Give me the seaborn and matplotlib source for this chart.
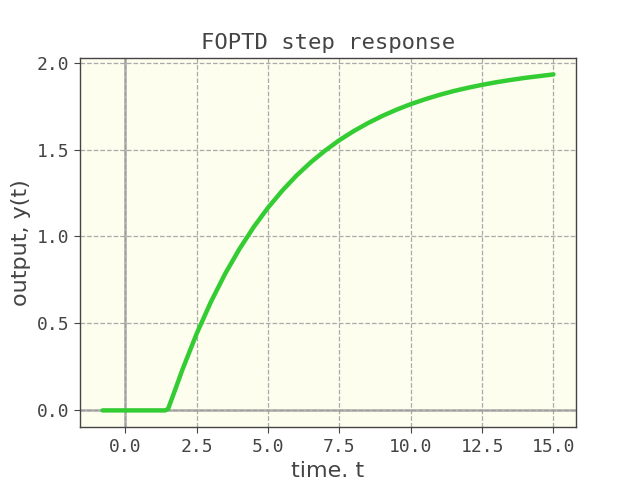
import matplotlib
matplotlib.use("Agg")
import matplotlib.pyplot as plt
import seaborn as sns
import pandas as pd

# values
time_t = [-0.8, 0.0, 0.5, 1.0, 1.4, 1.5, 1.75, 2.0, 2.5, 3.0, 3.5, 4.0, 4.5, 5.0,
          5.5, 6.0, 6.5, 7.0, 7.5, 8.0, 8.5, 9.0, 9.5, 10.0, 10.5, 11.0,
          11.5, 12.0, 12.5, 13.0, 13.5, 14.0, 14.5, 15.0]
output_y = [0.0, 0.0, 0.0, 0.0, 0.0, 0.01, 0.121, 0.235, 0.442, 0.625, 0.787, 0.929, 1.055, 1.166,
            1.264, 1.351, 1.427, 1.494, 1.554, 1.606, 1.652, 1.693, 1.729, 1.761, 1.789, 1.814,
            1.836, 1.855, 1.872, 1.887, 1.900, 1.912, 1.922, 1.932]
xticks = [0.0, 2.5, 5.0, 7.5, 10.0, 12.5, 15.0]
yticks = [0.0, 0.5, 1.0, 1.5, 2.0]

df = pd.DataFrame({"t": time_t, "y": output_y})

sns.set_style("ticks")
plt.rcParams["font.family"] = ["DejaVu Sans"]

fig, ax = plt.subplots(figsize=(6.4, 4.8), dpi=100)
ax.set_facecolor("#fefeee")
ax.axhline(0, color="#999999", lw=2, alpha=0.7, zorder=1)
ax.axvline(0, color="#999999", lw=2, alpha=0.7, zorder=1)
sns.lineplot(data=df, x="t", y="y", ax=ax, color="#33cc33", lw=3.2, zorder=3)
ax.grid(True, ls="--", color="#aaaaaa", lw=0.9)
ax.set_axisbelow(True)
ax.set_xticks(xticks)
ax.set_yticks(yticks)
ax.set_xticklabels([f"{v:.1f}" for v in xticks], family="DejaVu Sans Mono", fontsize=13, color="#444444")
ax.set_yticklabels([f"{v:.1f}" for v in yticks], family="DejaVu Sans Mono", fontsize=13, color="#444444")
ax.tick_params(colors="#444444", length=4)
ax.set_xlabel("time. t", fontsize=16, color="#444444")
ax.set_ylabel("output, y(t)", fontsize=16, color="#444444")
ax.set_title("FOPTD step response", family="DejaVu Sans Mono", fontsize=16, color="#444444")
for s in ax.spines.values():
    s.set_color("#444444")
    s.set_linewidth(1.0)
ax.margins(x=0.05, y=0.05)
fig.subplots_adjust(left=0.125, right=0.9, top=0.88, bottom=0.11)
fig.savefig("out.png", dpi=100)
